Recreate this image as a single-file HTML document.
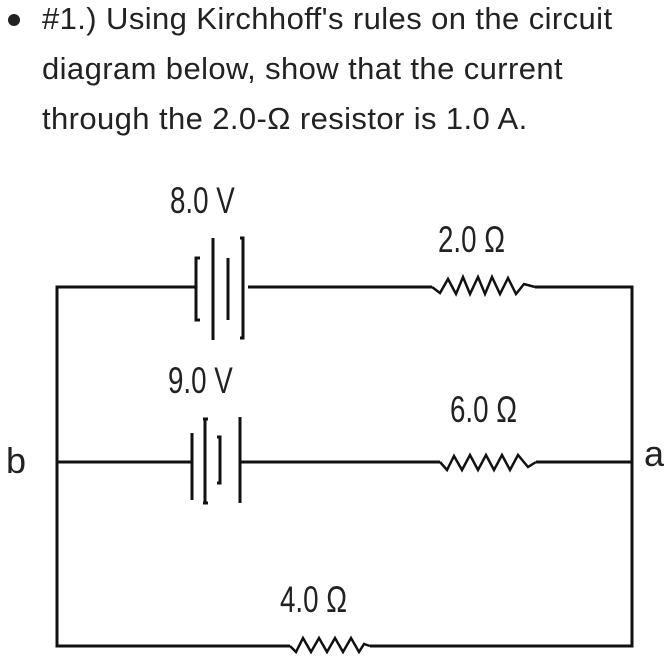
<!DOCTYPE html>
<html><head><style>
body{margin:0;background:#fff;width:672px;height:660px;overflow:hidden;position:relative;font-family:"Liberation Sans",sans-serif;}
.t{position:absolute;left:42px;font-size:31px;letter-spacing:0.4px;color:#222;white-space:nowrap;}
</style></head><body>
<div style="position:absolute;left:8px;top:14px;width:12px;height:12px;border-radius:50%;background:#222"></div>
<div class="t" style="top:1px">#1.) Using Kirchhoff's rules on the circuit</div>
<div class="t" style="top:51px">diagram below, show that the current</div>
<div class="t" style="top:101px">through the 2.0-Ω resistor is 1.0 A.</div>
<svg width="672" height="660" style="position:absolute;left:0;top:0" font-family="Liberation Sans, sans-serif">
<g stroke="#111" stroke-width="3" fill="none">
<polyline points="196,287 57,287 57,646 290,646"/>
<polyline points="248,287 432,287"/>
<polyline points="535,287 632,287 632,646 370,646"/>
<polyline points="57,462 192,462"/>
<polyline points="240,462 440,462"/>
<polyline points="536,462 632,462"/>
<polyline points="200,258 196,258 196,320 200,320"/>
<line x1="213" y1="238" x2="213" y2="340"/>
<line x1="228" y1="258" x2="228" y2="320"/>
<polyline points="240,238 243,238 243,338 240,338"/>
<line x1="192" y1="433" x2="192" y2="500"/>
<line x1="205" y1="419" x2="205" y2="503"/>
<polyline points="203,419 208,419"/><polyline points="203,503 208,503"/>
<polyline points="217,437 220,437 220,483 217,483"/>
<line x1="240" y1="417" x2="240" y2="503"/>
<polyline stroke-width="2.5" points="432,287 440,293 448,279 456,294 463,277 470,294 478,277 485,294 492,277 500,294 508,278 516,294 524,284 535,287"/>
<polyline stroke-width="2.5" points="440,462 447,470 454,456 462,470 470,455 478,470 486,455 494,470 502,455 510,470 518,455 528,467 536,462"/>
<polyline stroke-width="2.5" points="290,646 296,652 303,638 311,652 319,638 327,652 335,638 343,652 351,638 359,652 364,644 370,646"/>
</g>
<g fill="#222" font-size="37">
<text x="170" y="213" transform="translate(170 0) scale(0.75 1) translate(-170 0)">8.0 V</text>
<text x="168" y="393" transform="translate(168 0) scale(0.75 1) translate(-168 0)">9.0 V</text>
<text x="438" y="252" transform="translate(438 0) scale(0.75 1) translate(-438 0)">2.0 Ω</text>
<text x="450" y="422" transform="translate(450 0) scale(0.75 1) translate(-450 0)">6.0  Ω</text>
<text x="280" y="612" transform="translate(280 0) scale(0.75 1) translate(-280 0)">4.0 Ω</text>
<text x="6" y="473" font-size="36">b</text>
<text x="644" y="466" font-size="36">a</text>
</g>
</svg>
</body></html>
